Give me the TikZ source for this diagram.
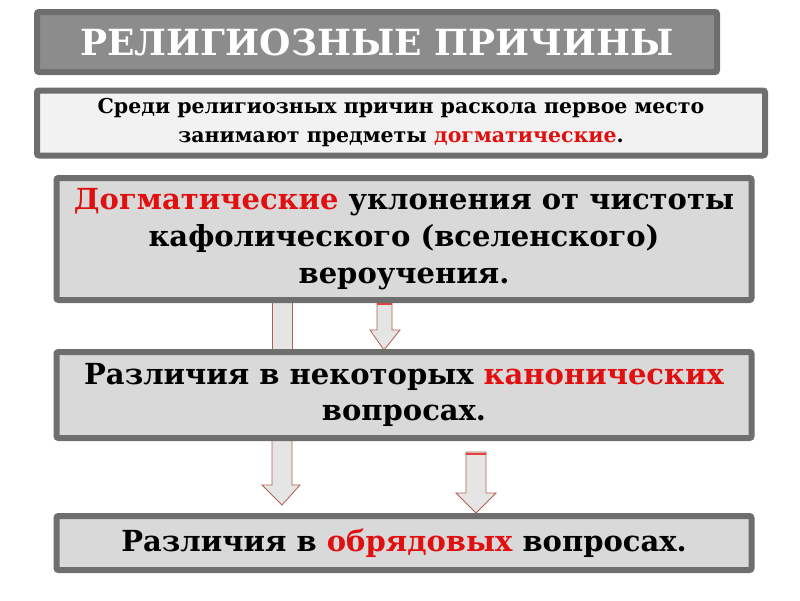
\documentclass[tikz,border=0pt]{standalone}
\usepackage{fontspec}
\setmainfont{DejaVu Serif}
\definecolor{frame}{HTML}{6E6E6E}
\definecolor{deepred}{HTML}{E01010}
\definecolor{arrowline}{HTML}{B06050}

\begin{document}
\begin{tikzpicture}[
    x = 1pt, y = -1pt,
    every node/.style = {font = \bfseries, align = center, inner sep = 0pt},
    panel/.style = {draw = frame, line width = 6pt, rounded corners = 2pt,
                    minimum width = 695pt, fill = gray!30},
    blockarrow/.style = {draw = arrowline, fill = gray!20, line width = 0.8pt},
    topbar/.style = {draw = deepred!80, line width = 2pt}]

\useasboundingbox (0,0) rectangle (800,600);

% block arrows behind the panels
\draw[blockarrow] (272,300) -- (292,300) -- (292,356) -- (272,356) -- cycle;
\draw[blockarrow] (377,302) -- (392,302) -- (392,330) -- (400,330) --
	  (384,350) -- (370,330) -- (377,330) -- cycle;
\draw[topbar] (377,304) -- (392,304);
\draw[blockarrow] (272,438) -- (292,438) -- (292,485) -- (300,485) --
	  (282,505) -- (262,485) -- (272,485) -- cycle;
\draw[blockarrow] (466,452) -- (486,452) -- (486,493) -- (496,493) --
	  (476,513) -- (456,493) -- (466,493) -- cycle;
\draw[topbar] (466,454) -- (486,454);

% panels
\node[panel, fill = black!45, minimum width = 680pt, minimum height = 60pt,
      text = white, font = \bfseries\fontsize{36}{38}\selectfont]
      (title) at (377,42) {РЕЛИГИОЗНЫЕ ПРИЧИНЫ};
\node[panel, fill = gray!10, minimum width = 728pt, minimum height = 65pt,
      font = \bfseries\fontsize{20.5}{29}\selectfont]
      (intro) at (401,123) {Среди религиозных причин раскола первое место\\
      занимают предметы \textcolor{deepred}{догматические}.};
\node[panel, minimum height = 122pt, font = \bfseries\fontsize{29}{37}\selectfont]
      (dogma) at (404,239) {\textcolor{deepred}{Догматические} уклонения от чистоты\\
      кафолического (вселенского)\\ вероучения.};
\node[panel, minimum height = 86pt, font = \bfseries\fontsize{29}{36}\selectfont]
      (canon) at (404,395) {Различия в некоторых \textcolor{deepred}{канонических}\\
      вопросах.};
\node[panel, minimum height = 54pt, font = \bfseries\fontsize{29}{30}\selectfont]
      (rite) at (404,543) {Различия в \textcolor{deepred}{обрядовых} вопросах.};
\end{tikzpicture}
\end{document}
